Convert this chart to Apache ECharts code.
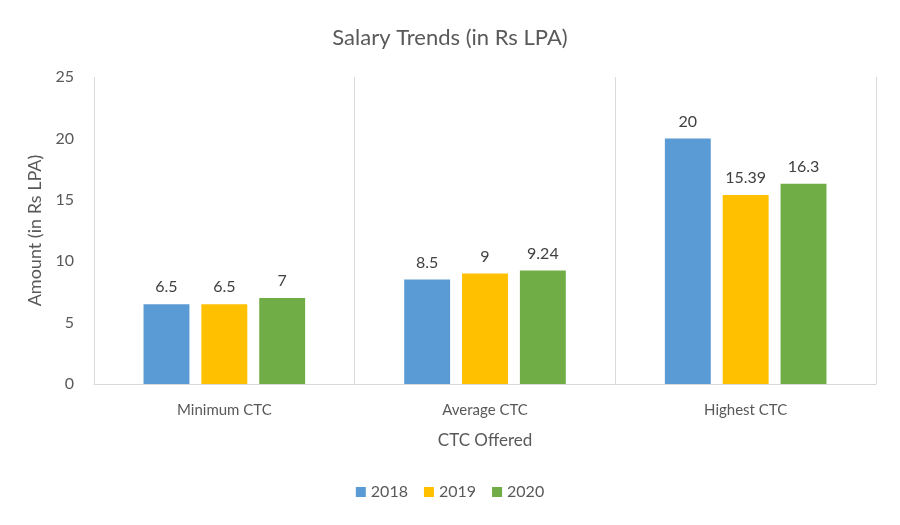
<!DOCTYPE html>
<html>
<head>
<meta charset="utf-8">
<script src="https://cdn.jsdelivr.net/npm/echarts@6/dist/echarts.min.js"></script>
<style>
  html, body { margin: 0; padding: 0; background: #fff; }
  #main { width: 900px; height: 525px; }
</style>
</head>
<body>
<div id="main"></div>
<script>
  var categories = ['Minimum CTC', 'Average CTC', 'Highest CTC'];
  var years = ['2018', '2019', '2020'];
  var values2018 = [6.5, 8.5, 20];
  var values2019 = [6.5, 9, 15.39];
  var values2020 = [7, 9.24, 16.3];
  var colors = ['#5b9bd5', '#ffc000', '#70ad47'];

  var txt = '#595959';
  var font = 'Lato, "Open Sans", sans-serif';

  function bar(name, data, color) {
    return {
      name: name,
      type: 'bar',
      data: data,
      barGap: '26%',
      barCategoryGap: '38%',
      itemStyle: { color: color },
      label: {
        show: true,
        position: 'top',
        distance: 9,
        color: '#404040',
        fontSize: 16,
        fontFamily: font
      }
    };
  }

  var myChart = echarts.init(document.getElementById('main'));
  var option = {
    animation: false,
    textStyle: { fontFamily: font },
    title: {
      text: 'Salary Trends (in Rs LPA)',
      left: 'center',
      top: 22,
      textStyle: { color: txt, fontSize: 22, fontWeight: 'normal', fontFamily: font }
    },
    legend: {
      bottom: 20,
      left: 'center',
      itemWidth: 10,
      itemHeight: 10,
      itemGap: 16,
      icon: 'rect',
      textStyle: { color: txt, fontSize: 16, fontFamily: font },
      data: years
    },
    grid: { left: 94, right: 24, top: 77, bottom: 141 },
    xAxis: {
      type: 'category',
      data: categories,
      name: 'CTC Offered',
      nameLocation: 'middle',
      nameGap: 48,
      nameTextStyle: { color: txt, fontSize: 17, fontFamily: font },
      axisLine: { lineStyle: { color: '#d9d9d9', width: 1 } },
      axisTick: { show: false },
      axisLabel: { color: txt, fontSize: 15, margin: 19, fontFamily: font },
      splitLine: { show: true, lineStyle: { color: '#d9d9d9', width: 1 } }
    },
    yAxis: {
      type: 'value',
      min: 0,
      max: 25,
      interval: 5,
      name: 'Amount (in Rs LPA)',
      nameLocation: 'middle',
      nameGap: 45,
      nameTextStyle: { color: txt, fontSize: 18, fontFamily: font },
      axisLine: { show: false },
      axisTick: { show: false },
      axisLabel: { color: txt, fontSize: 16, margin: 20, fontFamily: font },
      splitLine: { show: false }
    },
    series: [
      bar(years[0], values2018, colors[0]),
      bar(years[1], values2019, colors[1]),
      bar(years[2], values2020, colors[2])
    ]
  };
  myChart.setOption(option);
</script>
</body>
</html>
